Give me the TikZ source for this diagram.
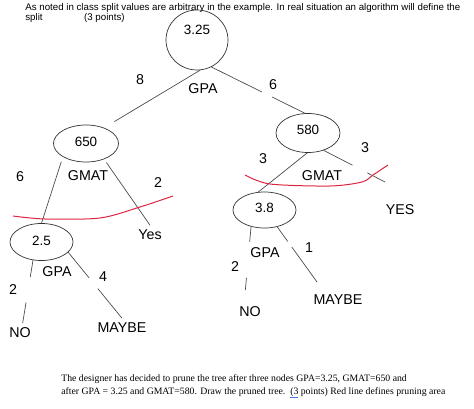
\documentclass[tikz,border=0pt]{standalone}
\usepackage{fontspec}
\setmainfont{Liberation Sans}
\newfontfamily\notefont{Liberation Serif}
\usepackage{tikz}
\usetikzlibrary{arrows,shapes,calc}
\definecolor{prunecol}{rgb}{0.86,0.15,0.25}
\definecolor{spellcol}{rgb}{0.30,0.45,0.85}

\begin{document}
\begin{tikzpicture}[>=latex,line join=bevel,
  split/.style={draw=black!80,ellipse,inner sep=0pt,text height=9.7bp,text depth=4bp,font=\fontsize{13.5}{16}\selectfont},
  leaf/.style={inner sep=4.5bp,font=\fontsize{14.3}{17}\selectfont},
  weight/.style={inner sep=0pt,font=\fontsize{14.3}{17}\selectfont},
  branch/.style={draw=black!70},
  prune/.style={draw=prunecol,line width=1bp}]
  \pgfsetlinewidth{0.7bp}
  \useasboundingbox (0bp,0bp) rectangle (474bp,409bp);
%%
  % Text: task statement
  \node [anchor=base west,inner sep=0pt,font=\fontsize{9.75}{12}\selectfont] (note1) at (25bp,398.5bp) {As noted in class split values are arbitrary in the example. In real situation an algorithm will define the};
  \node [anchor=base west,inner sep=0pt,font=\fontsize{9.75}{12}\selectfont] (note2) at (25bp,388bp) {split\hspace{41.5bp}(3 points)};
  % Node: root
  \node [split,minimum width=62bp,minimum height=60bp,text depth=20bp] (root) at (197bp,369bp) {3.25};
  % Node: n650
  \node [split,minimum width=65bp,minimum height=37bp,text depth=3bp] (n650) at (86bp,265.5bp) {650};
  % Node: n580
  \node [split,minimum width=64bp,minimum height=39bp,text depth=6bp] (n580) at (308bp,276bp) {580};
  % Node: n25
  \node [split,minimum width=63bp,minimum height=37bp,text depth=3bp] (n25) at (41.5bp,167bp) {2.5};
  % Node: n38
  \node [split,minimum width=63bp,minimum height=36bp,text depth=4bp] (n38) at (264.5bp,199bp) {3.8};
  % Node: leaves
  \node [leaf] (yes) at (150bp,174bp) {Yes};
  \node [leaf] (no1) at (20bp,76bp) {NO};
  \node [leaf] (maybe1) at (122bp,81bp) {MAYBE};
  \node [leaf] (yes2) at (400bp,199bp) {YES};
  \node [leaf] (no2) at (250bp,97bp) {NO};
  \node [leaf] (maybe2) at (338bp,109bp) {MAYBE};
  \coordinate (yesend) at (385bp,227bp);
  % Labels: attribute and counts
  \node [weight] (w8) at (140bp,329bp) {8};
  \node [weight] (gpa1) at (203bp,320bp) {GPA};
  \node [weight] (w6a) at (273bp,324bp) {6};
  \node [weight] (w6b) at (20bp,232bp) {6};
  \node [weight] (gmat1) at (88bp,233bp) {GMAT};
  \node [weight] (w2a) at (158bp,226bp) {2};
  \node [weight] (w3a) at (263bp,250bp) {3};
  \node [weight] (w3b) at (365bp,261bp) {3};
  \node [weight] (gmat2) at (322bp,233bp) {GMAT};
  \node [weight] (gpa2) at (57bp,137bp) {GPA};
  \node [weight] (w2b) at (13bp,119bp) {2};
  \node [weight] (w4) at (103bp,132bp) {4};
  \node [weight] (gpa3) at (265bp,156bp) {GPA};
  \node [weight] (w2c) at (235bp,142bp) {2};
  \node [weight] (w1) at (309bp,161bp) {1};
  % Edge: root -> n650
  \draw [branch,shorten >=12bp] (root.-84) -- (n650.41);
  % Edge: root -> n580
  \draw [branch] (root.-62) -- ($(root.-62)!.54!(n580.99)$);
  \draw [branch] ($(root.-62)!.65!(n580.99)$) -- (n580.99);
  % Edge: n650 -> n25
  \draw [branch,shorten <=5bp] (n650.-150) -- (n25.north);
  % Edge: n650 -> yes
  \draw [branch,shorten <=4bp] (n650.-41) -- (yes.north);
  % Edge: n25 -> no1
  \draw [branch] (n25.-115) -- ($(n25.-115)!.27!(no1.75)$);
  \draw [branch] ($(n25.-115)!.67!(no1.75)$) -- (no1.75);
  % Edge: n25 -> maybe1
  \draw [branch] (n25.-21) -- ($(n25.-21)!.39!(maybe1.north)$);
  \draw [branch] ($(n25.-21)!.55!(maybe1.north)$) -- (maybe1.north);
  % Edge: n580 -> n38
  \draw [branch] (n580.-92) -- (n38.109);
  % Edge: n580 -> yes2
  \draw [branch] (n580.-48) -- ($(n580.-48)!.47!(yesend)$);
  \draw [branch] ($(n580.-48)!.71!(yesend)$) -- (yesend);
  % Edge: n38 -> no2
  \draw [branch] (n38.-129) -- ($(n38.-129)!.2!(no2.120)$);
  \draw [branch,shorten >=12bp] ($(n38.-129)!.68!(no2.120)$) -- (no2.120);
  % Edge: n38 -> maybe2
  \draw [branch] (n38.-53) -- ($(n38.-53)!.23!(maybe2.147)$);
  \draw [branch,shorten >=10bp] ($(n38.-53)!.32!(maybe2.147)$) -- (maybe2.147);
  % Pruning lines
  \draw [prune] plot [smooth] coordinates {(13bp,193bp) (45bp,190bp) (100bp,191bp) (140bp,202bp) (173bp,213bp)};
  \draw [prune] plot [smooth] coordinates {(245bp,234bp) (270bp,225bp) (330bp,223bp) (362bp,227bp) (373bp,234bp) (388bp,244bp)};
  % Text: question
  \node [anchor=base west,inner sep=0pt,font=\notefont\fontsize{9.8}{11}\selectfont] (task1) at (61bp,28bp) {The designer has decided to prune the tree after three nodes GPA=3.25, GMAT=650 and};
  \node [anchor=base west,inner sep=0pt,font=\notefont\fontsize{9.8}{11}\selectfont] (task2) at (61bp,15bp) {after GPA = 3.25 and GMAT=580. Draw the pruned tree.\ \ {\color{spellcol}\underline{\color{black}(3}} points) Red line defines pruning area};
%
\end{tikzpicture}
\end{document}
